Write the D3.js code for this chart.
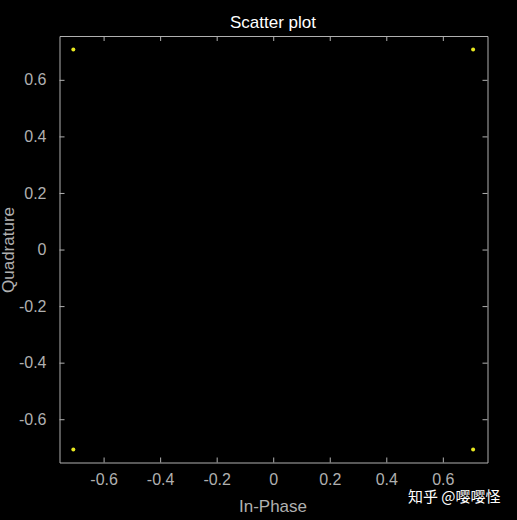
<!DOCTYPE html>
<html><head><meta charset="utf-8">
<script src="https://cdn.jsdelivr.net/npm/d3@7"></script>
<style>body{margin:0;background:#000}text{font-family:"Liberation Sans",Arial,sans-serif}</style>
</head><body><svg id="c" width="517" height="520"></svg>
<script>
const inPhase = [0.7071, -0.7071, -0.7071, 0.7071]
const quadrature = [0.7071, 0.7071, -0.7071, -0.7071]
const tickValues = [-0.6, -0.4, -0.2, 0, 0.2, 0.4, 0.6]

const svg = d3.select("#c")
svg.append("rect").attr("width", 517).attr("height", 520).attr("fill", "#000")

const x = d3.scaleLinear().domain([-0.756, 0.758]).range([59.5, 487.5])
const y = d3.scaleLinear().domain([-0.753, 0.755]).range([462.5, 36])
const grey = "#b0b0b0"

// MATLAB style labels: plain hyphen, no trailing zeros on 0
const fmt = d => d === 0 ? "0" : d.toFixed(1)

const styleAxis = g => {
  g.select(".domain").attr("stroke", grey)
  g.selectAll(".tick line").attr("stroke", grey)
  g.selectAll(".tick text").attr("fill", grey).attr("font-size", 16)
}

svg.append("g").attr("transform", "translate(0,462.5)")
  .call(d3.axisBottom(x).tickValues(tickValues).tickFormat(fmt).tickSizeInner(-5).tickSizeOuter(0).tickPadding(11))
  .call(styleAxis)
svg.append("g").attr("transform", "translate(0,36)")
  .call(d3.axisTop(x).tickValues(tickValues).tickFormat("").tickSizeInner(-5).tickSizeOuter(0))
  .call(styleAxis)
svg.append("g").attr("transform", "translate(59.5,0)")
  .call(d3.axisLeft(y).tickValues(tickValues).tickFormat(fmt).tickSizeInner(-5).tickSizeOuter(0).tickPadding(13))
  .call(styleAxis)
svg.append("g").attr("transform", "translate(487.5,0)")
  .call(d3.axisRight(y).tickValues(tickValues).tickFormat("").tickSizeInner(-5).tickSizeOuter(0))
  .call(styleAxis)

svg.selectAll("circle.pt").data(inPhase).join("circle")
  .attr("class", "pt")
  .attr("cx", d => x(d))
  .attr("cy", (d, i) => y(quadrature[i]))
  .attr("r", 2)
  .attr("fill", "#e8e820")

svg.append("text").attr("x", 273).attr("y", 28).attr("text-anchor", "middle")
  .attr("fill", "#fff").attr("font-size", 17).text("Scatter plot")
svg.append("text").attr("x", 273).attr("y", 512).attr("text-anchor", "middle")
  .attr("fill", grey).attr("font-size", 17).text("In-Phase")
svg.append("text").attr("transform", "translate(14,250) rotate(-90)").attr("text-anchor", "middle")
  .attr("fill", grey).attr("font-size", 17).text("Quadrature")
svg.append("text").attr("x", 408).attr("y", 502)
  .attr("fill", "#fff").attr("font-size", 15).style("font-family", "Noto Sans CJK SC").text("知乎 @嘤嘤怪")
</script></body></html>
